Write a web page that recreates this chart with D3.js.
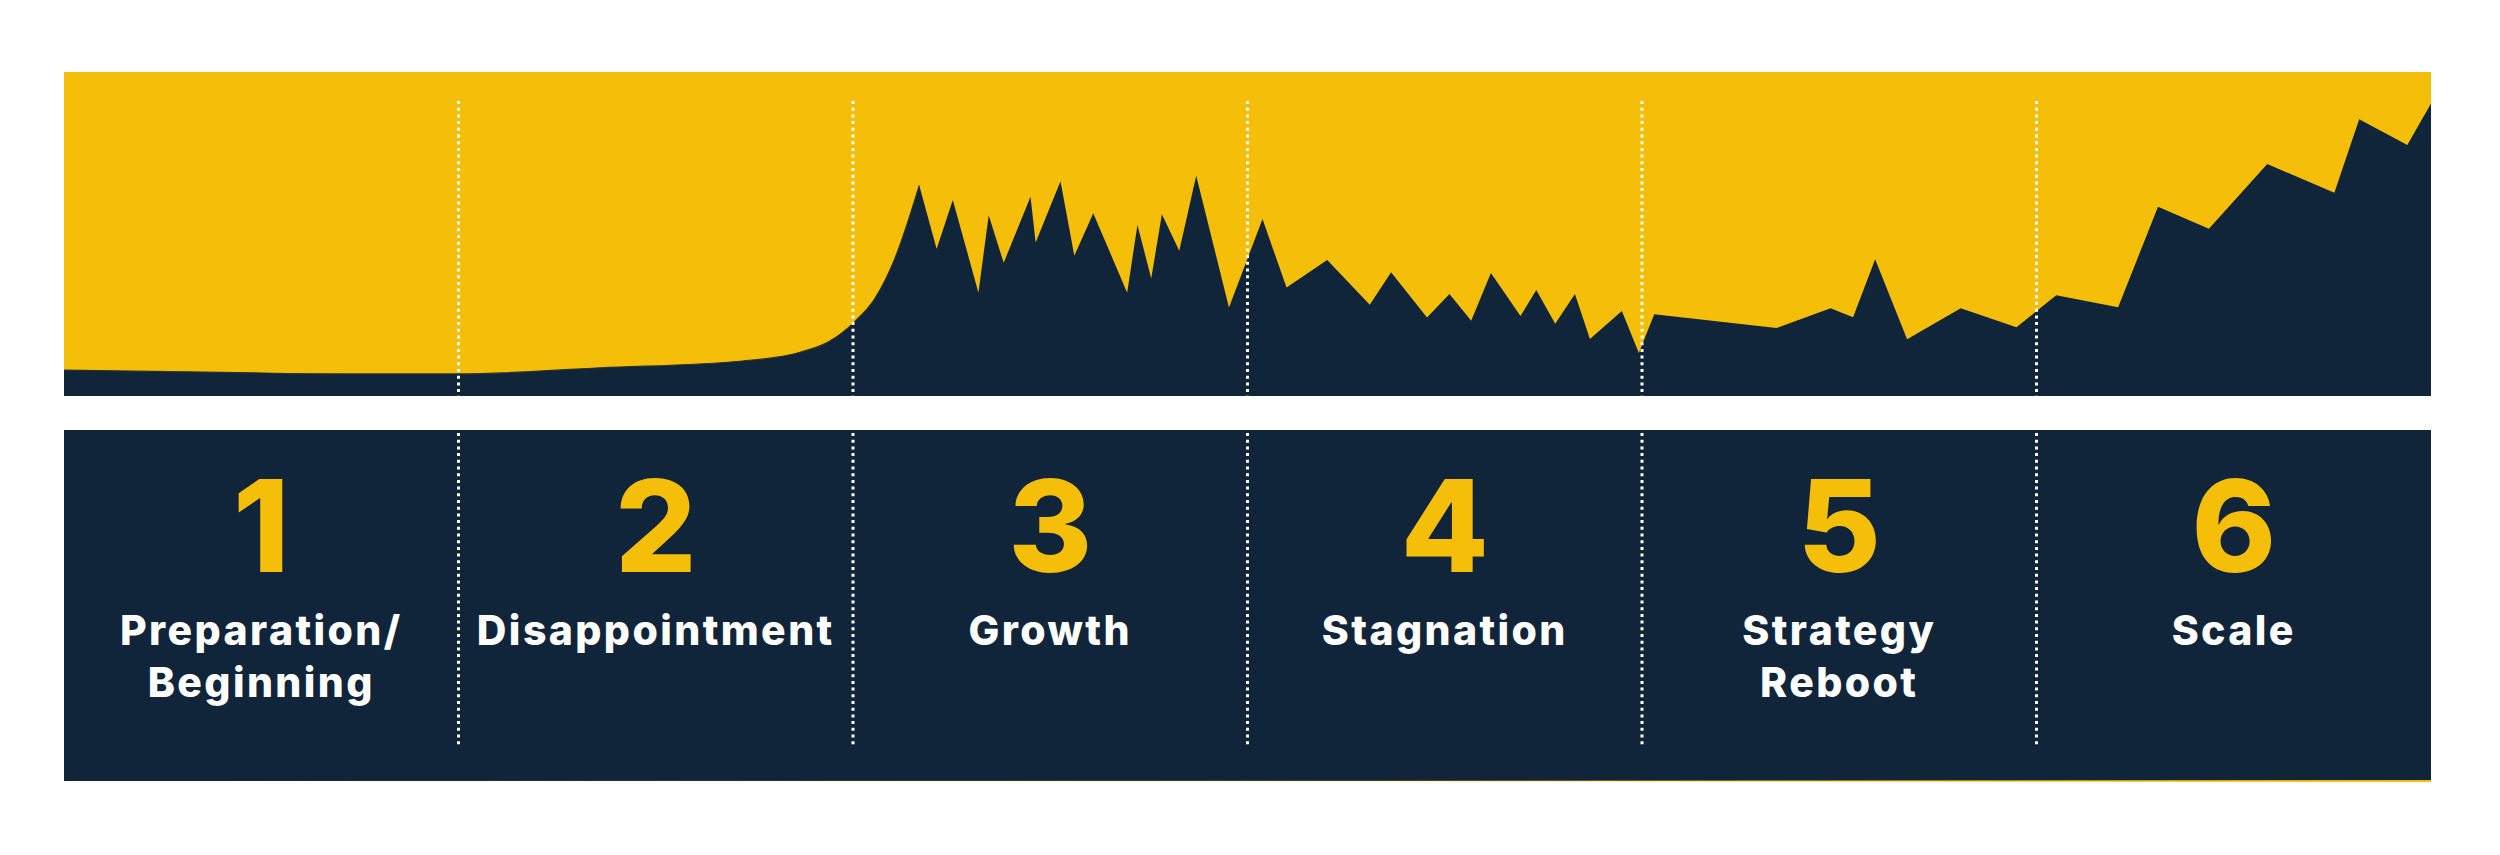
<!DOCTYPE html>
<html>
<head>
<meta charset="utf-8">
<script src="https://cdn.jsdelivr.net/npm/d3@7"></script>
<style>
  html, body { margin: 0; padding: 0; background: #ffffff; }
  svg { display: block; }
</style>
</head>
<body>
<svg id="chart" width="2500" height="855"></svg>
<script>
// ---- data ----
const stageNumbers = ["1", "2", "3", "4", "5", "6"];
const stageLabels = [
  ["Preparation/", "Beginning"],
  ["Disappointment"],
  ["Growth"],
  ["Stagnation"],
  ["Strategy", "Reboot"],
  ["Scale"]
];
// smooth early part of the journey (time units: 100 per stage)
const smoothTime  = [0, 40, 71, 100, 136, 172, 186.6, 193.8, 200.4, 205.5, 210.6, 216.8];
const smoothValue = [8.0, 7.3, 6.8, 6.8, 8.7, 10.8, 13.5, 16.7, 22.9, 30.0, 42.4, 65.0];
// jagged part from the first growth spike onwards
const jaggedTime = [216.8, 221.2, 225.3, 231.8, 234.4, 238.2, 245.0, 246.3, 252.6, 256.1,
  260.9, 269.5, 272.1, 275.6, 278.3, 282.7, 287.0, 295.3, 303.8, 309.9,
  320.2, 331.0, 336.4, 345.5, 351.2, 356.7, 361.7, 369.2, 373.2, 378.0,
  383.0, 386.8, 394.9, 399.2, 403.1, 434.1, 447.8, 453.5, 459.1, 467.2,
  480.8, 494.9, 505.0, 520.7, 530.8, 543.7, 558.5, 575.5, 581.8, 594.0, 600];
const jaggedValue = [65.0, 45.4, 60.5, 31.9, 55.8, 41.1, 61.5, 47.4, 66.3, 43.3,
  56.4, 31.9, 52.8, 36.3, 56.1, 44.8, 68.0, 27.3, 54.6, 33.5,
  42.0, 28.2, 38.2, 24.2, 31.5, 23.2, 38.0, 24.7, 32.7, 22.3,
  31.5, 17.6, 26.2, 13.3, 25.2, 21.0, 27.1, 24.3, 42.2, 17.5,
  27.1, 21.2, 31.1, 27.4, 58.4, 51.6, 71.6, 62.7, 85.4, 77.5, 90.3];
const stageBoundaries = [100, 200, 300, 400, 500];

// ---- style ----
const YELLOW = "#F5BF09";
const NAVY = "#11253A";

const svg = d3.select("#chart");
const left = 64, right = 2431;
const chartTop = 72, chartBottom = 396;
const boxTop = 430, boxBottom = 781;

const x = d3.scaleLinear().domain([0, 600]).range([left, right]);
const y = d3.scaleLinear().domain([0, 100]).range([chartBottom, chartTop]);
const stageBand = d3.scaleBand().domain(d3.range(6)).range([left, right]);

// yellow background
svg.append("rect")
  .attr("x", x(0)).attr("y", y(100))
  .attr("width", x(600) - x(0)).attr("height", y(0) - y(100))
  .attr("fill", YELLOW);

const smooth = smoothTime.map((t, i) => ({t, v: smoothValue[i]}));
const jagged = jaggedTime.map((t, i) => ({t, v: jaggedValue[i]}));

const lineSmooth = d3.line().x(d => x(d.t)).y(d => y(d.v)).curve(d3.curveMonotoneX);
const lineJagged = d3.line().x(d => x(d.t)).y(d => y(d.v)).curve(d3.curveLinear);

// one continuous area: smooth start, then sharp linear spikes
const topPath = lineSmooth(smooth) + lineJagged(jagged.slice(1)).replace(/^M/, "L");
const areaPath = topPath + "L" + x(600) + "," + y(0) + "L" + x(0) + "," + y(0) + "Z";

svg.append("path").attr("d", areaPath).attr("fill", NAVY);
// faint darker edge along the smooth part
svg.append("path").attr("d", lineSmooth(smooth))
  .attr("fill", "none").attr("stroke", "#26332f").attr("stroke-width", 1.2);

// bottom stage box
svg.append("rect")
  .attr("x", left).attr("y", boxTop)
  .attr("width", right - left).attr("height", boxBottom - boxTop)
  .attr("fill", NAVY);

// faint yellow edge at bottom of box
const grad = svg.append("defs").append("linearGradient").attr("id", "edge")
  .attr("x1", "0%").attr("x2", "100%");
grad.append("stop").attr("offset", "0%").attr("stop-color", YELLOW).attr("stop-opacity", 0);
grad.append("stop").attr("offset", "55%").attr("stop-color", YELLOW).attr("stop-opacity", 0.2);
grad.append("stop").attr("offset", "100%").attr("stop-color", YELLOW).attr("stop-opacity", 1);
svg.append("rect")
  .attr("x", left).attr("y", boxBottom - 1)
  .attr("width", right - left).attr("height", 2)
  .attr("fill", "url(#edge)");

// dotted stage separators
stageBoundaries.forEach(b => {
  svg.append("line")
    .attr("x1", x(b)).attr("x2", x(b))
    .attr("y1", 101).attr("y2", chartBottom)
    .attr("stroke", "#ffffff").attr("stroke-width", 3)
    .attr("stroke-dasharray", "3,3.7");
  svg.append("line")
    .attr("x1", x(b)).attr("x2", x(b))
    .attr("y1", 433).attr("y2", 747)
    .attr("stroke", "#ffffff").attr("stroke-width", 3)
    .attr("stroke-dasharray", "3,3.7");
});

// stage numbers and labels
stageNumbers.forEach((n, i) => {
  const cx = stageBand(i) + stageBand.bandwidth() / 2;
  svg.append("text")
    .attr("x", cx).attr("y", 572)
    .attr("text-anchor", "middle")
    .attr("font-family", "Inter, 'Open Sans', sans-serif")
    .attr("font-weight", 800)
    .attr("font-size", 128)
    .attr("fill", YELLOW)
    .text(n);
  stageLabels[i].forEach((line, j) => {
    svg.append("text")
      .attr("x", cx).attr("y", 645 + j * 52)
      .attr("text-anchor", "middle")
      .attr("font-family", "Inter, 'Open Sans', sans-serif")
      .attr("font-weight", 800)
      .attr("font-size", 41)
      .attr("letter-spacing", 2.4)
      .attr("fill", "#ffffff")
      .text(line);
  });
});
</script>
</body>
</html>
